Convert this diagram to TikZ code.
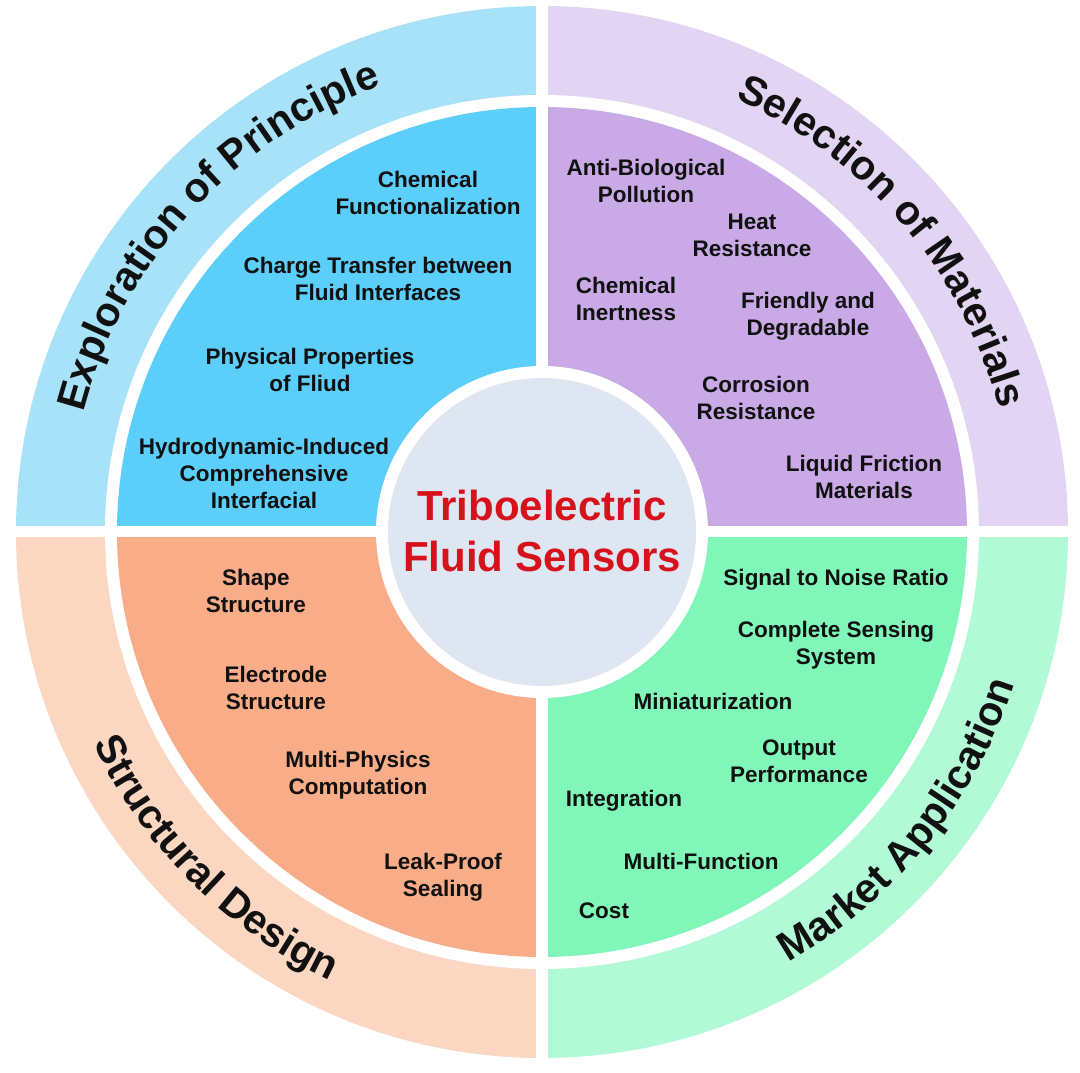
\documentclass[tikz,border=0pt]{standalone}
\usepackage{fontspec}
\setmainfont{Liberation Sans}
\usetikzlibrary{decorations.text}
\definecolor{lblue}{RGB}{167,226,249}
\definecolor{dblue}{RGB}{91,206,250}
\definecolor{lpurple}{RGB}{225,213,243}
\definecolor{dpurple}{RGB}{201,170,230}
\definecolor{lorange}{RGB}{251,214,193}
\definecolor{dorange}{RGB}{248,173,136}
\definecolor{lgreen}{RGB}{177,250,213}
\definecolor{dgreen}{RGB}{128,247,185}
\definecolor{hubgray}{RGB}{222,230,242}
\definecolor{hubred}{RGB}{214,18,28}
\definecolor{txt}{RGB}{17,17,17}
\newcommand\ringfont{\fontsize{41}{41}\selectfont\bfseries}
\begin{document}
\begin{tikzpicture}[x=1pt,y=1pt,
  item/.style={font=\fontsize{22.5}{27}\selectfont\bfseries, align=center, text=txt, inner sep=0pt},
  hub/.style={font=\fontsize{42}{51}\selectfont\bfseries, align=center, text=hubred, inner sep=0pt},
  ringtitle/.style={decorate, decoration={text along path, text={|\ringfont|#1}, text align=center, text color=txt}}
  ]
\useasboundingbox (-542,-541) rectangle (538,532);
\fill[white] (-542,-541) rectangle (538,532);
% outer ring
\fill[lblue] (0,0) -- (90:526) arc[start angle=90,end angle=180,radius=526] -- cycle;
\fill[lpurple] (0,0) -- (0:526) arc[start angle=0,end angle=90,radius=526] -- cycle;
\fill[lorange] (0,0) -- (180:526) arc[start angle=180,end angle=270,radius=526] -- cycle;
\fill[lgreen] (0,0) -- (270:526) arc[start angle=270,end angle=360,radius=526] -- cycle;
\fill[white] (0,0) circle[radius=437];
% inner quadrants
\fill[dblue] (0,0) -- (90:425) arc[start angle=90,end angle=180,radius=425] -- cycle;
\fill[dpurple] (0,0) -- (0:425) arc[start angle=0,end angle=90,radius=425] -- cycle;
\fill[dorange] (0,0) -- (180:425) arc[start angle=180,end angle=270,radius=425] -- cycle;
\fill[dgreen] (0,0) -- (270:425) arc[start angle=270,end angle=360,radius=425] -- cycle;
% gaps
\fill[white] (-6,-540) rectangle (6,540);
\fill[white] (-540,-5.5) rectangle (540,5.5);
\fill[white] (0,0) circle[radius=166];
\fill[hubgray] (0,0) circle[radius=154];
% hub
\node[hub] (hubtext) at (0,1) {Triboelectric\\Fluid Sensors};
% ring titles
\path[ringtitle={Exploration of Principle}] (177.6:474) arc[start angle=177.6,end angle=97.6,radius=474];
\path[ringtitle={Selection of Materials}] (80.5:474) arc[start angle=80.5,end angle=0.5,radius=474];
\path[ringtitle={Structural Design}] (185:496) arc[start angle=185,end angle=265,radius=496];
\path[ringtitle={Market Application}] (281:496) arc[start angle=281,end angle=361,radius=496];
% blue items
\node[item] (chemfunc) at (-114,339) {Chemical\\Functionalization};
\node[item] (charge) at (-164,253) {Charge Transfer between\\Fluid Interfaces};
\node[item] (phys) at (-232,162) {Physical Properties\\of Fliud};
\node[item] (hydro) at (-278,59) {Hydrodynamic-Induced\\Comprehensive\\Interfacial};
% purple items
\node[item] (anti) at (104,351) {Anti-Biological\\Pollution};
\node[item] (heat) at (210,297) {Heat\\Resistance};
\node[item] (inert) at (84,233) {Chemical\\Inertness};
\node[item] (friendly) at (266,216) {Friendly and\\Degradable};
\node[item] (corrosion) at (214,134) {Corrosion\\Resistance};
\node[item] (liquid) at (322,55) {Liquid Friction\\Materials};
% orange items
\node[item] (shape) at (-286,-59) {Shape\\Structure};
\node[item] (electrode) at (-266,-156) {Electrode\\Structure};
\node[item] (multiphys) at (-184,-243) {Multi-Physics\\Computation};
\node[item] (leak) at (-99,-345) {Leak-Proof\\Sealing};
% green items
\node[item] (signal) at (294,-47.5) {Signal to Noise Ratio};
\node[item] (complete) at (294,-113) {Complete Sensing\\System};
\node[item] (mini) at (171,-169) {Miniaturization};
\node[item] (output) at (257,-229) {Output\\Performance};
\node[item] (integ) at (82,-269) {Integration};
\node[item] (multifunc) at (159,-329) {Multi-Function};
\node[item] (cost) at (62,-379) {Cost};
\end{tikzpicture}
\end{document}
